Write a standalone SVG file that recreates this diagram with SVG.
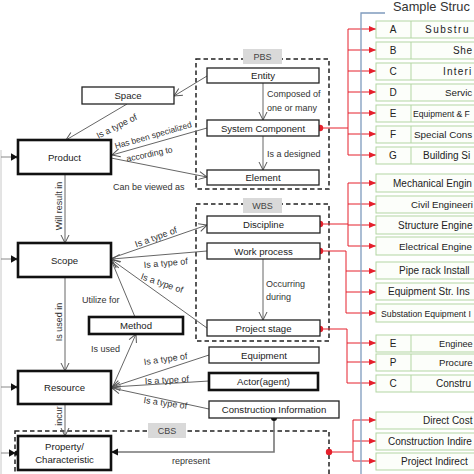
<svg xmlns="http://www.w3.org/2000/svg" width="474" height="474" viewBox="0 0 474 474">
<defs>
<marker id="oa" markerUnits="userSpaceOnUse" markerWidth="10" markerHeight="10" refX="8" refY="4" orient="auto" overflow="visible"><path d="M0,0 L8,4 L0,8" fill="none" stroke="#555" stroke-width="1"/></marker>
<marker id="ra" markerUnits="userSpaceOnUse" markerWidth="8" markerHeight="8" refX="7" refY="3" orient="auto" overflow="visible"><path d="M0,0 L7,3 L0,6 Z" fill="#e5202c"/></marker>
<marker id="rd" markerUnits="userSpaceOnUse" markerWidth="8" markerHeight="8" refX="4" refY="4" orient="auto" overflow="visible"><circle cx="4" cy="4" r="3.2" fill="#e5202c"/></marker>
<marker id="bd" markerUnits="userSpaceOnUse" markerWidth="8" markerHeight="8" refX="4" refY="4" orient="auto" overflow="visible"><circle cx="4" cy="4" r="3" fill="#111"/></marker>
<marker id="en" markerUnits="userSpaceOnUse" markerWidth="12" markerHeight="10" refX="8" refY="5" orient="auto" overflow="visible"><path d="M0,1.2 L6.5,5 L0,8.8 Z" fill="#111"/><circle cx="8" cy="5" r="2.6" fill="#111"/></marker>
<marker id="tr" markerUnits="userSpaceOnUse" markerWidth="10" markerHeight="10" refX="7" refY="4" orient="auto" overflow="visible"><path d="M0,0.5 L7,4 L0,7.5 Z" fill="#111"/></marker>
</defs>
<style>
text{font-family:"Liberation Sans",Arial,sans-serif;fill:#222}
.b{fill:#fff;stroke:#222;stroke-width:1.3}
.bt{fill:#fff;stroke:#111;stroke-width:2.6}
.bl{font-size:9.6px;text-anchor:middle}
.lb{font-size:9px;fill:#333}
.c{fill:none;stroke:#666;stroke-width:1}
.ca{fill:none;stroke:#666;stroke-width:1;marker-end:url(#oa)}
.dash{fill:none;stroke:#222;stroke-width:1.5;stroke-dasharray:4.5 3}
.tag{fill:#d9d9d9}
.tg{font-size:9px;text-anchor:middle;fill:#444}
.r{fill:none;stroke:#e5202c;stroke-width:1}
.ra{fill:none;stroke:#e5202c;stroke-width:1;marker-end:url(#ra)}
.g{fill:#fcfefa;stroke:#b3d6a3;stroke-width:1}
.rt{font-size:10px;fill:#222}
.ent{fill:none;stroke:#888;stroke-width:1;marker-end:url(#en)}
</style>
<rect width="474" height="474" fill="#fff"/>
<line x1="1" y1="150" x2="1" y2="474" stroke="#c8c8c8" stroke-width="1"/>

<!-- dashed grouping boxes -->
<g id="pbs">
<rect class="dash" x="196" y="59" width="133" height="130"/>
<rect class="tag" x="243" y="49" width="39" height="15"/>
<text class="tg" x="262.5" y="60">PBS</text>
</g>
<g id="wbs">
<rect class="dash" x="196" y="204" width="133" height="137"/>
<rect class="tag" x="243" y="198" width="39" height="15"/>
<text class="tg" x="262.5" y="209">WBS</text>
</g>
<g id="cbs">
<rect class="dash" x="15" y="431" width="314" height="70"/>
<rect class="tag" x="148" y="423" width="38" height="15"/>
<text class="tg" x="167" y="434">CBS</text>
</g>

<!-- connectors -->
<g id="connectors">
<line class="ent" x1="1" y1="157" x2="19" y2="157"/>
<line class="ent" x1="1" y1="259" x2="19" y2="259"/>
<line class="ent" x1="1" y1="387" x2="19" y2="387"/>
<line class="ent" x1="1" y1="453" x2="17" y2="453"/>

<line class="ca" x1="127" y1="104" x2="66" y2="140"/>
<line class="ca" x1="207" y1="76" x2="174" y2="96"/>
<line class="ca" x1="207" y1="128" x2="112" y2="155"/>
<line class="ca" x1="111" y1="158" x2="207" y2="177"/>
<line class="ca" x1="263" y1="83" x2="263" y2="120"/>
<line class="ca" x1="263" y1="136" x2="263" y2="170"/>
<line class="ca" x1="65" y1="174" x2="65" y2="243"/>
<line class="ca" x1="112" y1="258" x2="207" y2="225"/>
<line class="ca" x1="207" y1="251" x2="112" y2="259"/>
<line class="ca" x1="207" y1="328" x2="112" y2="260"/>
<line class="ca" x1="135" y1="317" x2="112" y2="262"/>
<line class="ca" x1="263" y1="259" x2="263" y2="320"/>
<line class="ca" x1="65" y1="277" x2="65" y2="371"/>
<line class="ca" x1="113" y1="386" x2="136" y2="334"/>
<line class="ca" x1="209" y1="355" x2="112" y2="387"/>
<line class="ca" x1="209" y1="381" x2="112" y2="387"/>
<line class="ca" x1="209" y1="409" x2="112" y2="388"/>
<line class="ca" x1="65" y1="404" x2="65" y2="436"/>
<polyline points="274,418 274,452 111,452" fill="none" stroke="#777" stroke-width="1.6" marker-start="url(#bd)" marker-end="url(#tr)"/>

<!-- red mapping connectors -->
<polyline class="r" points="320,128 348,128" marker-start="url(#rd)"/>
<line class="r" x1="348" y1="29" x2="348" y2="155"/>
<line class="ra" x1="348" y1="29" x2="376" y2="29"/>
<line class="ra" x1="348" y1="50" x2="376" y2="50"/>
<line class="ra" x1="348" y1="71" x2="376" y2="71"/>
<line class="ra" x1="348" y1="92" x2="376" y2="92"/>
<line class="ra" x1="348" y1="113" x2="376" y2="113"/>
<line class="ra" x1="348" y1="134" x2="376" y2="134"/>
<line class="ra" x1="348" y1="155" x2="376" y2="155"/>

<polyline class="r" points="320,224 348,224" marker-start="url(#rd)"/>
<line class="r" x1="348" y1="183" x2="348" y2="246"/>
<line class="ra" x1="348" y1="183" x2="376" y2="183"/>
<line class="ra" x1="348" y1="204" x2="376" y2="204"/>
<line class="ra" x1="348" y1="225" x2="376" y2="225"/>
<line class="ra" x1="348" y1="246" x2="376" y2="246"/>

<polyline class="r" points="320,251 346,251" marker-start="url(#rd)"/>
<line class="r" x1="346" y1="251" x2="346" y2="313"/>
<line class="ra" x1="346" y1="271" x2="376" y2="271"/>
<line class="ra" x1="346" y1="292" x2="376" y2="292"/>
<line class="ra" x1="346" y1="313" x2="376" y2="313"/>

<polyline class="r" points="320,329 347,329" marker-start="url(#rd)"/>
<line class="r" x1="347" y1="329" x2="347" y2="383"/>
<line class="ra" x1="347" y1="343" x2="376" y2="343"/>
<line class="ra" x1="347" y1="362" x2="376" y2="362"/>
<line class="ra" x1="347" y1="383" x2="376" y2="383"/>

<polyline class="r" points="329,452 353,452" marker-start="url(#rd)"/>
<line class="r" x1="353" y1="420" x2="353" y2="461"/>
<line class="ra" x1="353" y1="420" x2="376" y2="420"/>
<line class="ra" x1="353" y1="441" x2="376" y2="441"/>
<line class="ra" x1="353" y1="461" x2="376" y2="461"/>

<!-- blue bracket -->
<polyline points="385,13 361,13 361,474" fill="none" stroke="#7f9bbd" stroke-width="1.3"/>
</g>

<!-- connector labels -->
<g id="labels">
<text class="lb" transform="translate(118,129) rotate(-27)" text-anchor="middle">Is a type of</text>
<text class="lb" transform="translate(154,138) rotate(-16)" text-anchor="middle" style="font-size:8.4px">Has been specialized</text>
<text class="lb" transform="translate(150,157) rotate(-12)" text-anchor="middle" style="font-size:8.6px">according to</text>
<text class="lb" x="113" y="190">Can be viewed as</text>
<text class="lb" x="267" y="97">Composed of</text>
<text class="lb" x="267" y="111">one or many</text>
<text class="lb" x="267" y="157">Is a designed</text>
<text class="lb" transform="translate(62,206) rotate(-90)" text-anchor="middle">Will result in</text>
<text class="lb" transform="translate(157,240) rotate(-20)" text-anchor="middle">Is a type of</text>
<text class="lb" transform="translate(166,266) rotate(-5)" text-anchor="middle">Is a type of</text>
<text class="lb" transform="translate(161,286) rotate(19)" text-anchor="middle">Is a type of</text>
<text class="lb" x="82" y="303">Utilize for</text>
<text class="lb" x="266" y="287">Occurring</text>
<text class="lb" x="266" y="300">during</text>
<text class="lb" transform="translate(62,322) rotate(-90)" text-anchor="middle">Is used in</text>
<text class="lb" x="91" y="352">Is used</text>
<text class="lb" transform="translate(166,362) rotate(-8)" text-anchor="middle">Is a type of</text>
<text class="lb" transform="translate(167,383) rotate(-3)" text-anchor="middle">Is a type of</text>
<text class="lb" transform="translate(165,406) rotate(8)" text-anchor="middle">Is a type of</text>
<text class="lb" transform="translate(62,416) rotate(-90)" text-anchor="middle">incur</text>
<text class="lb" x="172" y="464">represent</text>
</g>

<!-- left nodes -->
<g id="space"><rect class="b" x="82" y="87" width="92" height="17"/><text class="bl" x="128" y="99">Space</text></g>
<g id="product"><rect class="bt" x="18" y="140" width="93" height="34"/><text class="bl" x="64.5" y="161">Product</text></g>
<g id="scope"><rect class="bt" x="18" y="243" width="93" height="34"/><text class="bl" x="64.5" y="264">Scope</text></g>
<g id="method"><rect class="bt" x="89" y="317" width="94" height="17"/><text class="bl" x="136" y="329">Method</text></g>
<g id="resource"><rect class="bt" x="18" y="371" width="93" height="33"/><text class="bl" x="64.5" y="391">Resource</text></g>
<g id="property"><rect class="bt" x="18" y="436" width="93" height="34"/><text class="bl" x="64.5" y="450">Property/</text><text class="bl" x="64.5" y="463">Characteristic</text></g>

<g id="entity"><rect class="b" x="207" y="68" width="112" height="15"/><text class="bl" x="263" y="79">Entity</text></g>
<g id="system-component"><rect class="b" x="207" y="120" width="112" height="16"/><text class="bl" x="263" y="131.5">System Component</text></g>
<g id="element"><rect class="b" x="207" y="170" width="112" height="15"/><text class="bl" x="263" y="181">Element</text></g>
<g id="discipline"><rect class="b" x="207" y="216" width="113" height="17"/><text class="bl" x="263.5" y="228">Discipline</text></g>
<g id="work-process"><rect class="b" x="207" y="243" width="113" height="16"/><text class="bl" x="263.5" y="254.5">Work process</text></g>
<g id="project-stage"><rect class="b" x="207" y="320" width="113" height="16"/><text class="bl" x="263.5" y="331.5">Project stage</text></g>
<g id="equipment"><rect class="b" x="209" y="347" width="110" height="16"/><text class="bl" x="264" y="358.5">Equipment</text></g>
<g id="actor"><rect class="bt" x="209" y="373" width="109" height="17"/><text class="bl" x="263.5" y="385">Actor(agent)</text></g>
<g id="construction-information"><rect class="b" x="209" y="401" width="130" height="17"/><text class="bl" x="274" y="413">Construction Information</text></g>

<!-- right sample structures (cut off by the picture edge, as in the reference) -->
<text x="393" y="11" style="font-size:12.8px;fill:#333">Sample Struc</text>
<g id="uniformat">
<g id="row-a"><rect class="g" x="376" y="21" width="200" height="17"/><line class="g" x1="411" y1="21" x2="411" y2="38"/><text class="rt" x="393" y="33" text-anchor="middle">A</text><text class="rt" x="425" y="33" letter-spacing="1.5">Substru</text></g>
<g id="row-b"><rect class="g" x="376" y="42" width="200" height="17"/><line class="g" x1="411" y1="42" x2="411" y2="59"/><text class="rt" x="393" y="54" text-anchor="middle">B</text><text class="rt" x="453" y="54" letter-spacing="0.6">She</text></g>
<g id="row-c"><rect class="g" x="376" y="63" width="200" height="17"/><line class="g" x1="411" y1="63" x2="411" y2="80"/><text class="rt" x="393" y="75" text-anchor="middle">C</text><text class="rt" x="443" y="75" letter-spacing="1.2">Interi</text></g>
<g id="row-d"><rect class="g" x="376" y="84" width="200" height="17"/><line class="g" x1="411" y1="84" x2="411" y2="101"/><text class="rt" x="393" y="96" text-anchor="middle">D</text><text class="rt" x="445" y="96" style="font-size:9.8px">Servic</text></g>
<g id="row-e"><rect class="g" x="376" y="105" width="200" height="17"/><line class="g" x1="411" y1="105" x2="411" y2="122"/><text class="rt" x="393" y="117" text-anchor="middle">E</text><text class="rt" x="413" y="116.5" style="font-size:8.6px">Equipment &amp; F</text></g>
<g id="row-f"><rect class="g" x="376" y="126" width="200" height="17"/><line class="g" x1="411" y1="126" x2="411" y2="143"/><text class="rt" x="393" y="138" text-anchor="middle">F</text><text class="rt" x="414" y="138" style="font-size:9.9px">Special Cons</text></g>
<g id="row-g"><rect class="g" x="376" y="147" width="200" height="17"/><line class="g" x1="411" y1="147" x2="411" y2="164"/><text class="rt" x="393" y="159" text-anchor="middle">G</text><text class="rt" x="423" y="159">Building Si</text></g>
</g>
<g id="disciplines">
<g id="mech"><rect class="g" x="376" y="174" width="200" height="18"/><text class="rt" x="393" y="186.5">Mechanical Engin</text></g>
<g id="civil"><rect class="g" x="376" y="196" width="200" height="17"/><text class="rt" x="411" y="208" style="font-size:9.7px">Civil Engineeri</text></g>
<g id="struct"><rect class="g" x="376" y="216" width="200" height="18"/><text class="rt" x="398" y="228.5">Structure Engine</text></g>
<g id="elec"><rect class="g" x="376" y="237" width="200" height="18"/><text class="rt" x="399" y="249.5" style="font-size:9.8px">Electrical Engine</text></g>
</g>
<g id="processes">
<g id="pipe"><rect class="g" x="376" y="262" width="200" height="17"/><text class="rt" x="399" y="274">Pipe rack Install</text></g>
<g id="eqstr"><rect class="g" x="376" y="283" width="200" height="17"/><text class="rt" x="388" y="295">Equipment Str. Ins</text></g>
<g id="subst"><rect class="g" x="376" y="304" width="200" height="18"/><text class="rt" x="381" y="316.5" style="font-size:8.7px">Substation Equipment I</text></g>
</g>
<g id="stages">
<g id="st-e"><rect class="g" x="376" y="335" width="200" height="17"/><line class="g" x1="411" y1="335" x2="411" y2="352"/><text class="rt" x="393" y="347" text-anchor="middle">E</text><text class="rt" x="439" y="347" style="font-size:9.2px">Enginee</text></g>
<g id="st-p"><rect class="g" x="376" y="354" width="200" height="17"/><line class="g" x1="411" y1="354" x2="411" y2="371"/><text class="rt" x="393" y="366" text-anchor="middle">P</text><text class="rt" x="439" y="366" style="font-size:9.6px">Procure</text></g>
<g id="st-c"><rect class="g" x="376" y="375" width="200" height="17"/><line class="g" x1="411" y1="375" x2="411" y2="392"/><text class="rt" x="393" y="387" text-anchor="middle">C</text><text class="rt" x="436" y="387">Constru</text></g>
</g>
<g id="costs">
<g id="direct"><rect class="g" x="376" y="412" width="200" height="17"/><text class="rt" x="423" y="424">Direct Cost</text></g>
<g id="cind"><rect class="g" x="376" y="433" width="200" height="17"/><text class="rt" x="388" y="445">Construction Indire</text></g>
<g id="pind"><rect class="g" x="376" y="453" width="200" height="17"/><text class="rt" x="401" y="465">Project Indirect</text></g>
</g>
</svg>
